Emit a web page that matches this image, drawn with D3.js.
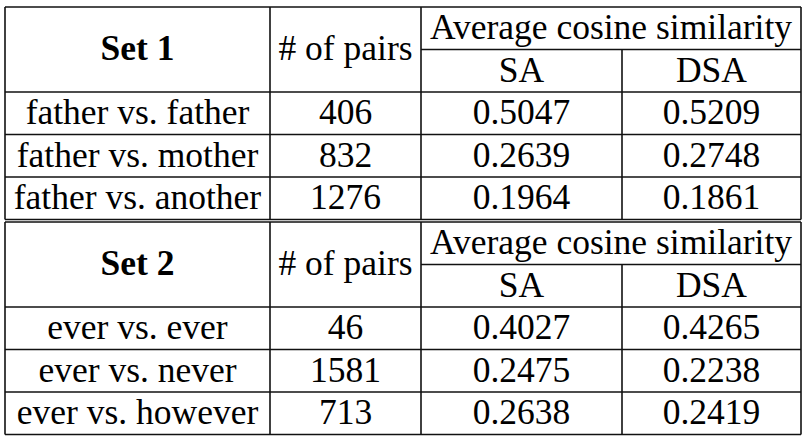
<!DOCTYPE html>
<html><head><meta charset="utf-8">
<script src="https://cdn.jsdelivr.net/npm/d3@7"></script>
<style>body{margin:0;background:#fff}</style>
</head><body><div id="chart-area"></div>
<script>
var setNames = ["Set 1", "Set 2"];
var pairLabels = [
  ["father vs. father", "father vs. mother", "father vs. another"],
  ["ever vs. ever", "ever vs. never", "ever vs. however"]
];
var pairCounts = [[406, 832, 1276], [46, 1581, 713]];
var saValues = [[0.5047, 0.2639, 0.1964], [0.4027, 0.2475, 0.2638]];
var dsaValues = [[0.5209, 0.2748, 0.1861], [0.4265, 0.2238, 0.2419]];

var svg = d3.select("#chart-area").append("svg")
  .attr("width", 808).attr("height", 441);

// column edges
var colX = [5, 270, 421, 622, 801];
var rowH = 42.5;
var blockTop = [7, 222];
var y = d3.scaleLinear().domain([0, 1]).range([0, rowH]);

function line(x1, y1, x2, y2) {
  svg.append("line").attr("x1", x1).attr("y1", y1).attr("x2", x2).attr("y2", y2)
    .attr("stroke", "#111").attr("stroke-width", 1.6);
}
function text(x, yy, s, bold) {
  svg.append("text").attr("x", x).attr("y", yy)
    .attr("text-anchor", "middle").attr("dominant-baseline", "central")
    .attr("font-family", "Liberation Serif, Times New Roman, serif")
    .attr("font-size", 35.5).attr("font-weight", bold ? "bold" : "normal")
    .attr("fill", "#000").text(s);
}
function mid(i) { return (colX[i] + colX[i + 1]) / 2; }

setNames.forEach(function(name, b) {
  var t = blockTop[b];
  var Y = function(r) { return t + y(r); };
  // horizontal lines
  line(colX[0], Y(0), colX[4], Y(0));
  line(colX[2], Y(1), colX[4], Y(1));
  for (var r = 2; r <= 5; r++) line(colX[0], Y(r), colX[4], Y(r));
  // vertical lines
  [0, 1, 2, 4].forEach(function(c) { line(colX[c], Y(0), colX[c], Y(5)); });
  line(colX[3], Y(1), colX[3], Y(5));
  // header
  text(mid(0), Y(1) - 2, name, true);
  text(mid(1), Y(1) - 2, "# of pairs");
  text((colX[2] + colX[4]) / 2, Y(0.5) - 1, "Average cosine similarity");
  text(mid(2), Y(1.5) - 1, "SA");
  text(mid(3), Y(1.5) - 1, "DSA");
  pairLabels[b].forEach(function(l, i) {
    var cy = Y(2.5 + i) - 1;
    text(mid(0), cy, l);
    text(mid(1), cy, pairCounts[b][i]);
    text(mid(2), cy, d3.format(".4f")(saValues[b][i]));
    text(mid(3), cy, d3.format(".4f")(dsaValues[b][i]));
  });
});
</script></body></html>
